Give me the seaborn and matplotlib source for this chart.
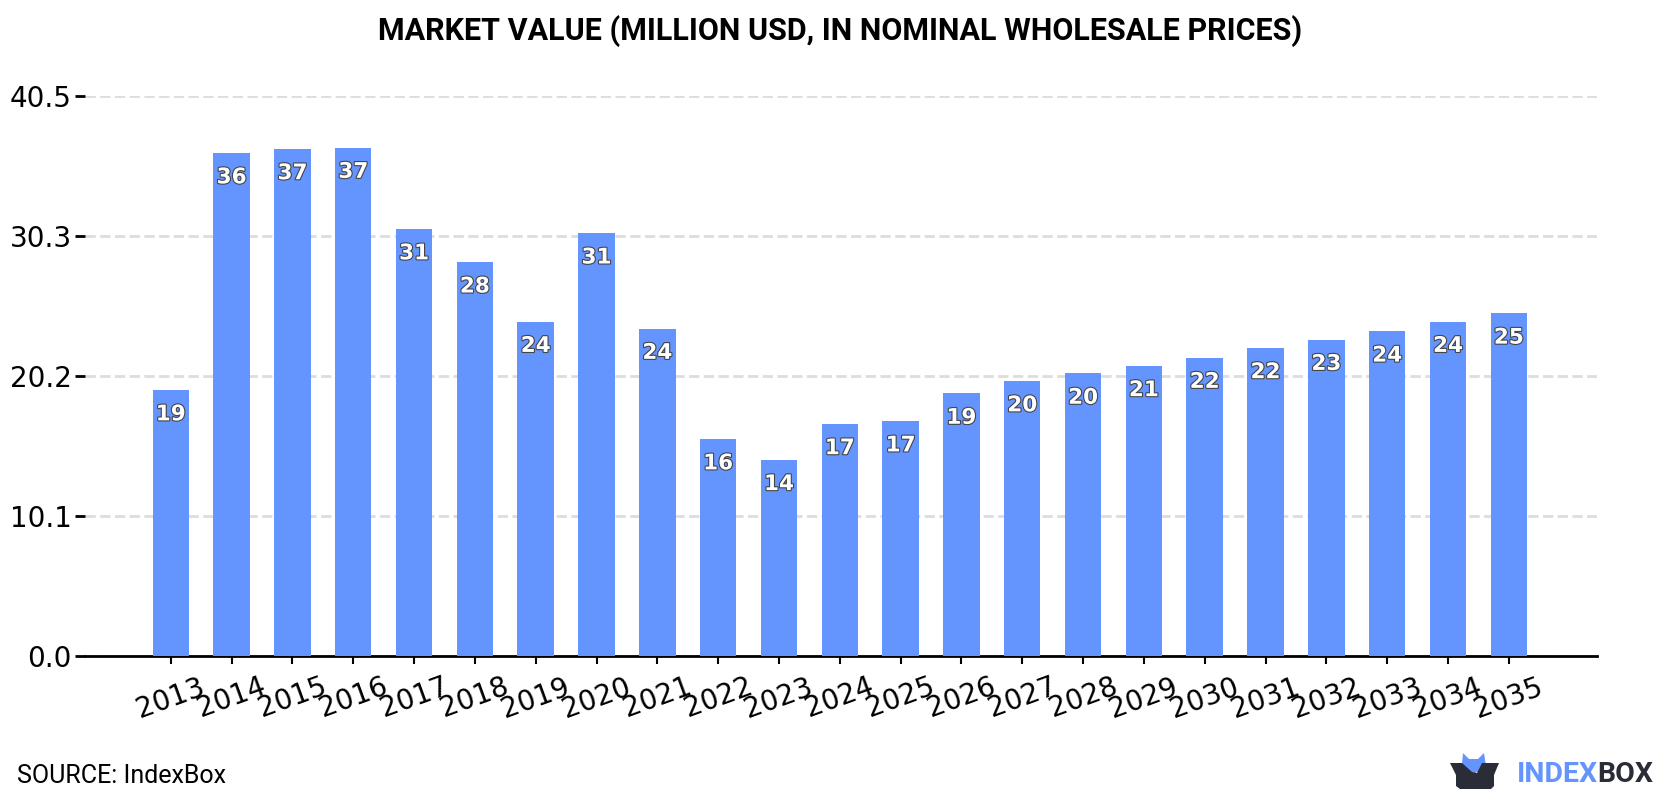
import matplotlib
matplotlib.use("Agg")
import matplotlib.pyplot as plt
import matplotlib.patheffects as pe
from matplotlib.patches import Polygon
import pandas as pd
import seaborn as sns

years = [str(y) for y in range(2013, 2036)]
market_value = [19.25, 36.4, 36.7, 36.8, 30.9, 28.5, 24.2, 30.6, 23.7, 15.7, 14.2, 16.8,
                17.0, 19.0, 19.9, 20.45, 21.0, 21.6, 22.3, 22.9, 23.5, 24.2, 24.8]
y_ticks = [0.0, 10.125, 20.25, 30.375, 40.5]
y_tick_labels = ["0.0", "10.1", "20.2", "30.3", "40.5"]
title = "MARKET VALUE (MILLION USD, IN NOMINAL WHOLESALE PRICES)"

BLUE = "#6495ff"
DARK = "#2a2c38"

sns.set_theme(style="white")
plt.rcParams["font.family"] = ["DejaVu Sans"]

frame = pd.DataFrame({"year": years, "value": market_value})

fig = plt.figure(figsize=(16.8, 8), dpi=100, facecolor="white")
ax = fig.add_axes([85 / 1680, 1 - 656 / 800, (1597 - 85) / 1680, (656 - 96.4) / 800])

sns.barplot(data=frame, x="year", y="value", color=BLUE, saturation=1, width=0.6,
            linewidth=0, edgecolor="none", ax=ax, zorder=3)

ax.set_xlim(-1.41, 23.45)
ax.set_ylim(0, 40.5)
ax.set_xlabel("")
ax.set_ylabel("")
ax.set_yticks(y_ticks, y_tick_labels)
ax.yaxis.grid(True, color="#dddddd", linestyle=(0, (3.7, 1.6)), linewidth=2, zorder=0)
ax.set_axisbelow(True)
ax.tick_params(axis="y", labelsize=20, length=7, width=2, color="black", labelcolor="black", pad=2.5,
               left=True)
ax.tick_params(axis="x", labelsize=20, length=6, width=1.5, color="black", labelcolor="black", pad=6,
               labelrotation=20, bottom=True)
for side in ("top", "left", "right"):
    ax.spines[side].set_visible(False)
ax.spines["bottom"].set_color("black")
ax.spines["bottom"].set_linewidth(2)

# Rounded value labels sit just inside the top of each bar
outline = [pe.withStroke(linewidth=1.6, foreground="#444444")]
for i, v in enumerate(market_value):
    ax.annotate(f"{v:.0f}", (i, v), xytext=(0, -17.5), textcoords="offset points",
                ha="center", va="center", fontsize=15.5, fontweight="bold", color="white",
                path_effects=outline, zorder=5)

fig.text(840 / 1680, 1 - 31 / 800, title, ha="center", va="center", fontsize=22,
         fontweight="bold", family="Roboto", color="black")
fig.text(17 / 1680, 1 - 776 / 800, "SOURCE: IndexBox", ha="left", va="center", fontsize=18,
         family="Roboto", color="black")

# Brand mark in the lower right corner, drawn in pixel space
def px(points):
    return [(x / 1680, 1 - y / 800) for x, y in points]

fig.add_artist(Polygon(px([(1462, 764), (1463, 753), (1469, 759), (1478, 759), (1484, 753), (1487, 772), (1476, 772), (1470, 782)]),
                       closed=True, transform=fig.transFigure, facecolor=BLUE, edgecolor="none"))
fig.add_artist(Polygon(px([(1450, 763), (1462, 763), (1472, 772), (1477, 773), (1482, 763), (1499, 763), (1494, 775), (1494, 786),
                           (1491, 789), (1460, 789), (1456, 786), (1456, 775)]),
                       closed=True, transform=fig.transFigure, facecolor=DARK, edgecolor="none"))
fig.text(1517 / 1680, 1 - 775 / 800, "INDEX", ha="left", va="center", fontsize=20.5,
         fontweight="bold", family="Roboto", color=BLUE)
fig.text(1597 / 1680, 1 - 775 / 800, "BOX", ha="left", va="center", fontsize=20.5,
         fontweight="bold", family="Roboto", color=DARK)

fig.savefig("out.png", dpi=100, facecolor="white")
